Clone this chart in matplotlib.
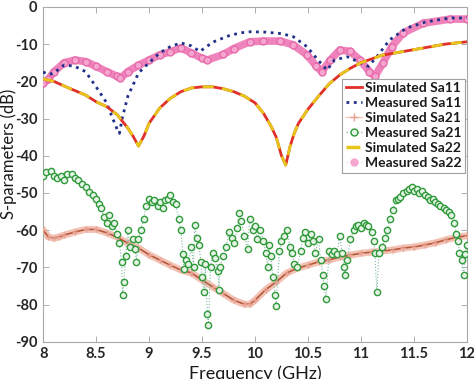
import matplotlib
matplotlib.use('Agg')
import matplotlib.pyplot as plt

plt.rcParams['font.family'] = ['Lato', 'DejaVu Sans']
plt.rcParams['font.weight'] = 'bold'
plt.rcParams['axes.unicode_minus'] = False

# Simulated Sa11 (identical to Simulated Sa22)
sim11_f = [8.0, 8.1, 8.2, 8.3, 8.4, 8.5, 8.6, 8.7, 8.8, 8.85, 8.9, 8.95, 9.0, 9.1,
           9.2, 9.3, 9.4, 9.5, 9.6, 9.7, 9.8, 9.9, 10.0, 10.08, 10.15, 10.2, 10.25,
           10.29, 10.33, 10.37, 10.41, 10.5, 10.6, 10.7, 10.8, 10.9, 11.0, 11.2,
           11.4, 11.6, 11.8, 12.0]
sim11_db = [-19.4, -20, -21.3, -22.5, -23.7, -25.5, -26.8, -29, -32.6, -34.8, -37.4,
            -34.8, -31.3, -27.2, -24.6, -22.8, -21.8, -21.5, -21.5, -22, -22.8, -24,
            -25.8, -28.6, -32, -35, -40, -42.5, -37.6, -34, -31.3, -27.5, -24, -20.7,
            -18.3, -16.5, -15, -13, -12, -11, -10, -9.4]

# Measured Sa11
meas11_f = [8.0, 8.05, 8.1, 8.2, 8.3, 8.4, 8.5, 8.6, 8.65, 8.7, 8.72, 8.75, 8.8, 8.9,
            9.0, 9.1, 9.2, 9.3, 9.4, 9.48, 9.6, 9.75, 9.86, 9.95, 10.1, 10.25, 10.36,
            10.49, 10.58, 10.68, 10.75, 10.87, 10.97, 11.07, 11.15, 11.27, 11.43,
            11.62, 11.84, 12.0]
meas11_db = [-17.5, -18.2, -17.8, -15.6, -16, -17.4, -21.5, -25.8, -29.5, -33, -34,
             -29.5, -24, -17.8, -15, -12.4, -10.7, -9.7, -10.5, -12, -9.5, -7.8, -7,
             -6.7, -6.8, -7.2, -8, -10.7, -13.8, -17, -14.3, -13.4, -14.7, -16, -13.4,
             -8.9, -5.7, -4, -3, -3]

# Simulated Sa21
sim21_f = [8.0, 8.05, 8.1, 8.15, 8.2, 8.3, 8.4, 8.5, 8.6, 8.7, 8.8, 8.9, 9.0, 9.1,
           9.2, 9.3, 9.4, 9.5, 9.6, 9.7, 9.8, 9.9, 9.95, 10.0, 10.1, 10.2, 10.3, 10.4,
           10.5, 10.6, 10.7, 10.8, 10.9, 11.0, 11.1, 11.2, 11.3, 11.4, 11.5, 11.6,
           11.7, 11.8, 11.9, 12.0]
sim21_db = [-60, -61.8, -62.2, -61.8, -61.3, -60.5, -59.8, -59.8, -60.7, -61.9, -63.5,
            -64.8, -66.6, -68, -69.4, -70.7, -71.5, -73.4, -75.2, -77, -78.8, -79.9,
            -79.9, -78.8, -76, -73.9, -71.5, -70.2, -69.4, -68.5, -68, -67.2, -66.7,
            -66.2, -65.9, -65.6, -65.3, -64.8, -64.5, -64, -63.4, -62.6, -61.9, -61.5]

# Measured Sa21
meas21_f = [8.0, 8.03, 8.07, 8.1, 8.13, 8.17, 8.2, 8.23, 8.27, 8.3,
            8.33, 8.37, 8.4, 8.43, 8.47, 8.5, 8.53, 8.55, 8.57, 8.6,
            8.62, 8.65, 8.67, 8.7, 8.72, 8.74, 8.75, 8.76, 8.78, 8.8,
            8.82, 8.85, 8.87, 8.88, 8.9, 8.92, 8.95, 8.97, 9.0, 9.03,
            9.05, 9.08, 9.1, 9.13, 9.15, 9.18, 9.2, 9.23, 9.25, 9.28,
            9.3, 9.32, 9.33, 9.35, 9.37, 9.4, 9.42, 9.43, 9.45, 9.47,
            9.49, 9.5, 9.52, 9.53, 9.55, 9.56, 9.58, 9.6, 9.62, 9.65,
            9.66, 9.67, 9.7, 9.73, 9.75, 9.78, 9.8, 9.83, 9.85, 9.87,
            9.9, 9.93, 9.95, 9.98, 10.0, 10.02, 10.05, 10.08, 10.1, 10.12,
            10.13, 10.15, 10.17, 10.19, 10.2, 10.23, 10.25, 10.27, 10.3, 10.33,
            10.35, 10.37, 10.4, 10.43, 10.45, 10.47, 10.5, 10.53, 10.55, 10.57,
            10.6, 10.62, 10.64, 10.65, 10.67, 10.7, 10.73, 10.75, 10.77, 10.8,
            10.82, 10.84, 10.85, 10.87, 10.9, 10.93, 10.95, 10.97, 11.0, 11.03,
            11.05, 11.07, 11.1, 11.12, 11.13, 11.15, 11.17, 11.2, 11.23, 11.25,
            11.27, 11.3, 11.33, 11.35, 11.37, 11.4, 11.43, 11.45, 11.48, 11.5,
            11.53, 11.55, 11.58, 11.6, 11.63, 11.65, 11.68, 11.7, 11.73, 11.75,
            11.78, 11.8, 11.83, 11.85, 11.88, 11.9, 11.92, 11.93, 11.95, 11.97,
            11.98, 12.0]
meas21_db = [-45.5, -44.5, -44, -45.5, -46, -45.5, -46.5, -45, -44.8, -46,
             -46.5, -47.5, -48.5, -49.8, -50.5, -51.5, -53, -54, -56.5, -58,
             -56, -59, -58, -61, -63.5, -68.5, -77.5, -74, -67, -60,
             -64.5, -62.5, -65, -68.5, -62.5, -60, -57, -53.5, -51.5, -52.5,
             -52, -53.5, -52.5, -54, -52, -51.5, -50.5, -52.5, -53, -57,
             -60, -66.5, -70.5, -68, -69, -64.5, -70, -58.5, -62, -64,
             -68.5, -72.5, -76.5, -69, -82.5, -85.5, -70, -66, -67.5, -71,
             -76, -70, -67, -64.5, -60.5, -62, -63.5, -59.5, -55.5, -57.5,
             -61.5, -65, -57, -60, -59, -62.5, -60, -63, -66, -70,
             -64, -67, -72.5, -77.5, -80.5, -65.5, -63, -61.5, -60, -64.5,
             -66, -69, -70, -65.5, -62, -60.5, -63.5, -61, -63, -66,
             -62.5, -68, -72, -75, -78.5, -65.5, -66.5, -65.5, -66.5, -61.5,
             -66, -70, -72, -68, -62.5, -60, -59, -58.5, -59.5, -58,
             -58.5, -59, -60.5, -63, -66, -76.5, -66, -64.5, -62, -60,
             -57, -54.5, -52, -51.5, -51, -50, -49.5, -49, -48.5, -49.5,
             -49, -50, -49.5, -50.5, -51, -52, -51.5, -52.5, -53, -53.5,
             -54, -54.5, -55, -56, -58, -61, -63, -66, -68, -72,
             -66.5, -64]

# Measured Sa22
meas22_f = [8.0, 8.05, 8.1, 8.2, 8.3, 8.4, 8.5, 8.6, 8.7, 8.73, 8.8, 8.9, 9.0, 9.1,
            9.2, 9.3, 9.4, 9.5, 9.55, 9.7, 9.8, 9.95, 10.08, 10.24, 10.36, 10.49,
            10.58, 10.63, 10.71, 10.8, 10.9, 10.99, 11.08, 11.13, 11.21, 11.29, 11.4,
            11.59, 11.84, 12.0]
meas22_db = [-20.5, -19.5, -17.5, -15, -14.3, -14.7, -16, -17.4, -18.7, -19.2, -17.4,
             -15.7, -14.3, -12.9, -12.1, -11, -12.4, -13.8, -14.3, -12.8, -11.2, -9.4,
             -9.2, -9.2, -10.2, -12.9, -16, -17.4, -14.3, -11.6, -12, -14.3, -17.4,
             -18.7, -15, -10.7, -7, -4.4, -3.3, -3.3]

x_ticks = [8, 8.5, 9, 9.5, 10, 10.5, 11, 11.5, 12]
x_labels = ['8', '8.5', '9', '9.5', '10', '10.5', '11', '11.5', '12']
y_ticks = [0, -10, -20, -30, -40, -50, -60, -70, -80, -90]

fig = plt.figure(figsize=(4.74, 3.79), dpi=100)
ax = fig.add_axes([0.091, 0.098, 0.894, 0.884])

# Sa21 curves
ax.plot(sim21_f, sim21_db, color='#f0b4a4', lw=5, alpha=0.8, zorder=2)
ax.plot(sim21_f, sim21_db, color='#b5583a', lw=1.2, marker='+', ms=5,
        mec='#e8a090', zorder=3)
ax.plot(meas21_f, meas21_db, color='#7fb7a0', lw=0.8, ls=':', marker='o', ms=4.5,
        mfc='#e6f3e6', mec='#2e9a3a', mew=1.0, zorder=4)

# Sa11 / Sa22 curves
ax.plot(meas22_f, meas22_db, color='#ec6fb0', lw=5.5, alpha=0.85, zorder=5)
ax.plot(meas22_f, meas22_db, color='#f08cc0', lw=0, marker='o', ms=5,
        mfc='#f4a6cf', mec='#e86aaa', zorder=5)
ax.plot(meas11_f, meas11_db, color='#1f2f8a', lw=2, ls=':', zorder=6)
ax.plot(sim11_f, sim11_db, color='#e0302a', lw=2, zorder=6)
ax.plot(sim11_f, sim11_db, color='#e6c619', lw=2, ls=(0, (4, 3)), zorder=7)

# legend proxies
h1, = ax.plot([], [], color='#e0302a', lw=2)
h2, = ax.plot([], [], color='#1f2f8a', lw=2, ls=':')
h3, = ax.plot([], [], color='#f4c4b8', lw=1, marker='+', ms=6, mec='#e8a090')
h4, = ax.plot([], [], color='#7fb7a0', lw=1, ls=':', marker='o', ms=5,
              mfc='#e6f3e6', mec='#2e9a3a')
h5, = ax.plot([], [], color='#e6c619', lw=2.5, ls=(0, (4, 3)))
h6, = ax.plot([], [], color='#f6c8df', lw=1, ls=':', marker='o', ms=5,
              mfc='#f4a6cf', mec='#f4a6cf')
leg = ax.legend([h1, h2, h3, h4, h5, h6],
                ['Simulated Sa11', 'Measured Sa11', 'Simulated Sa21',
                 'Measured Sa21', 'Simulated Sa22', 'Measured Sa22'],
                loc='upper right', bbox_to_anchor=(0.996, 0.786), fontsize=10,
                handlelength=1.2, handletextpad=0.2, labelspacing=0.22,
                borderpad=0.25, borderaxespad=0, fancybox=False, framealpha=1)
leg.get_frame().set_edgecolor('#a0a0a0')
leg.get_frame().set_linewidth(0.8)
for t in leg.get_texts():
    t.set_color('#1a1a1a')

ax.set_xlim(8, 12)
ax.set_ylim(-90, 0)
ax.set_xticks(x_ticks)
ax.set_xticklabels(x_labels)
ax.set_yticks(y_ticks)
ax.tick_params(direction='in', top=True, right=True, length=4, width=0.6,
               color='#a0a0a0', labelsize=10.5, labelcolor='#262626', pad=4)
for s in ax.spines.values():
    s.set_color('#a8a8a8')
    s.set_linewidth(0.8)

ax.set_xlabel('Frequency (GHz)', fontsize=13, color='#1a1a1a', labelpad=3)
ax.set_ylabel('S-parameters (dB)', fontsize=12, color='#1a1a1a')
ax.yaxis.set_label_coords(-0.061, 0.56)

plt.savefig('out.png', dpi=100)
plt.close()
